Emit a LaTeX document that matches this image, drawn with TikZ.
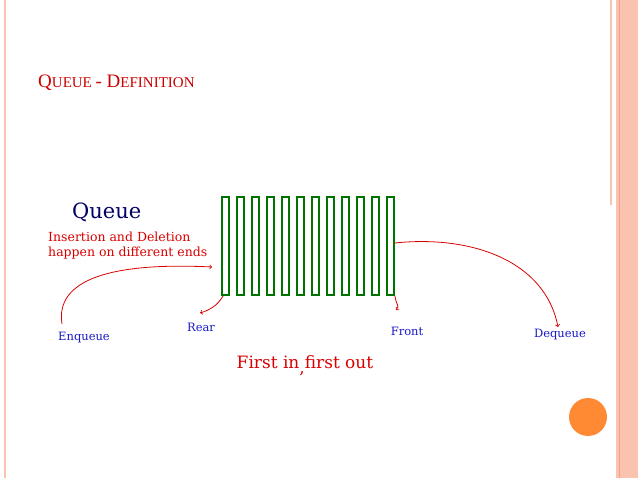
\documentclass[tikz,border=0pt]{standalone}
\usepackage{fontspec}
\setmainfont{DejaVu Serif}
\begin{document}
\begin{tikzpicture}[x=1pt,y=-1pt,
  lab/.style={font=\fontsize{11.5}{12}\selectfont, text=blue!75!black!90},
  red/.style={draw=red!85!black, line width=0.8pt},
  cell/.style={draw=green!45!black, line width=1.1pt}]
\useasboundingbox (0,0) rectangle (638,478);
\fill[white] (0,0) rectangle (638,478);
\definecolor{salmon}{RGB}{250,195,175}
\draw[salmon, line width=1.5pt] (5,0) -- (5,478);
\draw[salmon, line width=1.2pt] (611,0) -- (611,205);
\fill[salmon] (616,0) rectangle (638,478);
\draw[salmon!80!red, line width=1pt] (619,0) -- (619,478);
\node[anchor=west, text=red!80!black, inner sep=0pt] (title) at (38,83) {\fontspec{Liberation Serif}\fontsize{19}{20}\selectfont Q\fontsize{15}{16}\selectfont UEUE \fontsize{19}{20}\selectfont- D\fontsize{15}{16}\selectfont EFINITION};
\node[anchor=west, text=blue!40!black, font=\fontsize{21}{23}\selectfont, inner sep=0pt] (q) at (72,212) {Queue};
\node[anchor=north west, text=red!85!black, align=left, font=\fontsize{12.5}{15}\selectfont, inner sep=0pt] (ins) at (48,232) {Insertion and Deletion\\happen on different ends};
\foreach \i in {0,...,11} {\draw[cell] (222+15*\i,197) rectangle ++(7,98);}
\coordinate (rl) at (223,296);
\coordinate (fr) at (395,296);
\coordinate (fl) at (395,243);
\node[lab] (enq) at (84,338) {Enqueue};
\node[lab] (rear) at (201,327) {Rear};
\node[lab] (front) at (407,331) {Front};
\node[lab] (deq) at (560,335) {Dequeue};
\node[text=red!85!black, font=\fontsize{17}{19}\selectfont] (fifo) at (305,366) {First in\raisebox{-5pt}{,}first out};
\coordinate (ent) at (212,267);
\draw[red,->] (62,324) .. controls (55,280) and (110,262) .. (ent);
\draw[red,->] (rl) .. controls (218,305) and (210,310) .. (200,313);
\draw[red,->] (fr) .. controls (396,305) and (400,306) .. (396,310);
\draw[red,->] (fl) .. controls (470,235) and (545,260) .. (558,327);
\fill[orange!85!red!80] (588,417) circle (19);
\end{tikzpicture}
\end{document}
